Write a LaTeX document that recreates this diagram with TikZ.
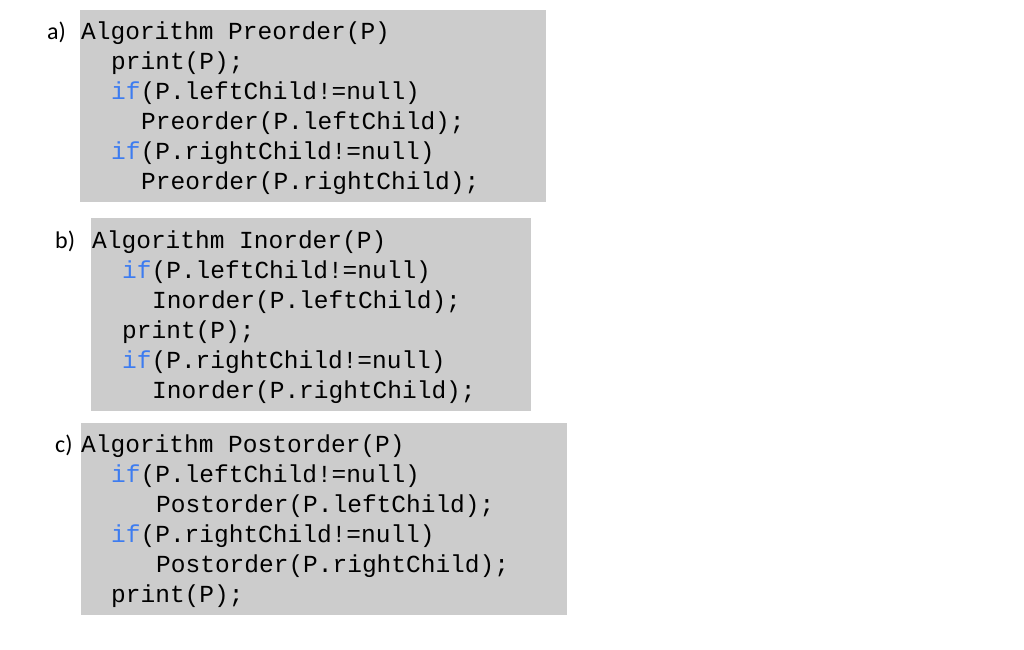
\documentclass[tikz,border=0pt]{standalone}
\usepackage{fontspec}
\setmonofont{Liberation Mono}
\newfontfamily\lab{Carlito}
\definecolor{boxgray}{HTML}{CCCCCC}
\definecolor{kw}{HTML}{3D7CF0}
\begin{document}
\begin{tikzpicture}[x=1pt,y=-1pt,
  code/.style={anchor=base west,inner sep=0pt,font=\fontsize{24.5}{24.5}\selectfont\ttfamily},
  lbl/.style={anchor=base west,inner sep=0pt,font=\fontsize{24}{24}\selectfont\lab}]
\useasboundingbox (0,0) rectangle (1024,649);
\fill[boxgray] (80,10) rectangle (546,202);
\fill[boxgray] (91,218) rectangle (531,411);
\fill[boxgray] (81,423) rectangle (567,615);
\def\k#1{\textcolor{kw}{#1}}
% a
\node[lbl] (la) at (47,39) {a)};
\node[code] (a1) at (81,39) {Algorithm Preorder(P)};
\node[code] (a2) at (111,69) {print(P);};
\node[code] (a3) at (111,99) {\k{if}(P.leftChild!=null)};
\node[code] (a4) at (141,129) {Preorder(P.leftChild);};
\node[code] (a5) at (111,159) {\k{if}(P.rightChild!=null)};
\node[code] (a6) at (141,189) {Preorder(P.rightChild);};
% b
\node[lbl] (lb) at (55,248) {b)};
\node[code] (b1) at (92,248) {Algorithm Inorder(P)};
\node[code] (b2) at (122,278) {\k{if}(P.leftChild!=null)};
\node[code] (b3) at (152,308) {Inorder(P.leftChild);};
\node[code] (b4) at (122,338) {print(P);};
\node[code] (b5) at (122,368) {\k{if}(P.rightChild!=null)};
\node[code] (b6) at (152,398) {Inorder(P.rightChild);};
% c
\node[lbl] (lc) at (55,452) {c)};
\node[code] (c1) at (81,452) {Algorithm Postorder(P)};
\node[code] (c2) at (111,482) {\k{if}(P.leftChild!=null)};
\node[code] (c3) at (156,512) {Postorder(P.leftChild);};
\node[code] (c4) at (111,542) {\k{if}(P.rightChild!=null)};
\node[code] (c5) at (156,572) {Postorder(P.rightChild);};
\node[code] (c6) at (111,602) {print(P);};
\end{tikzpicture}
\end{document}
